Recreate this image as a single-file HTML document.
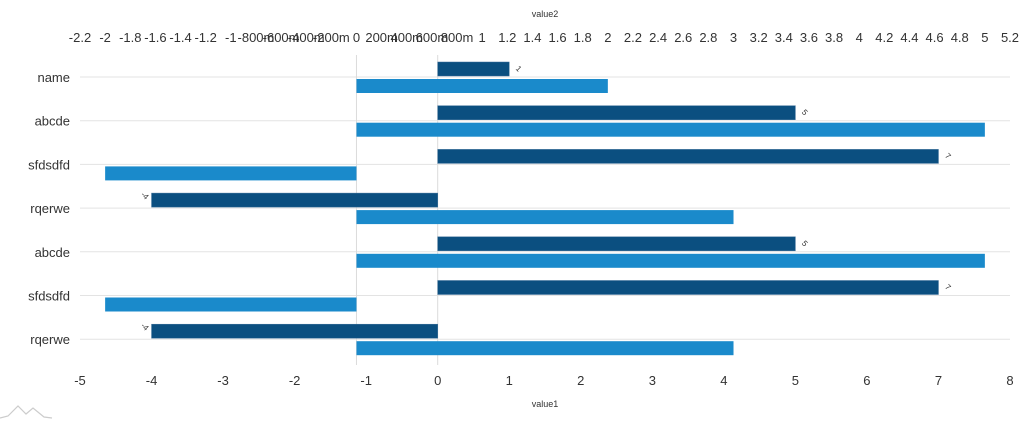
<!DOCTYPE html>
<html><head><meta charset="utf-8"><style>
body{margin:0;background:#fff;}
svg{display:block;font-family:"Liberation Sans",sans-serif;}
</style></head><body>
<svg id="c" width="1028" height="421"></svg>
<script>
const categories=["name","abcde","sfdsdfd","rqerwe","abcde","sfdsdfd","rqerwe"];
const value1=[1,5,7,-4,5,7,-4];
const value2=[2,5,-2,3,5,-2,3];
const bottomTicks=[-5,-4,-3,-2,-1,0,1,2,3,4,5,6,7,8];
const topTicks=[-2.2,-2,-1.8,-1.6,-1.4,-1.2,-1,-0.8,-0.6,-0.4,-0.2,0,0.2,0.4,0.6,0.8,1,1.2,1.4,1.6,1.8,2,2.2,2.4,2.6,2.8,3,3.2,3.4,3.6,3.8,4,4.2,4.4,4.6,4.8,5,5.2];
const NS="http://www.w3.org/2000/svg";
const svg=document.getElementById('c');
const L=80,R=1010,T=55,B=365;
const x1=v=>L+(v+5)/13*(R-L);
const x2=v=>L+(v+2.2)/7.4*(R-L);
const rowY=i=>77+i*43.7;
function mk(tag,attrs,parent){const e=document.createElementNS(NS,tag);for(const k in attrs)e.setAttribute(k,attrs[k]);(parent||svg).appendChild(e);return e;}
function fmt(v){v=Math.round(v*10)/10;if(Math.abs(v)<1&&v!==0)return Math.round(v*1000)+"m";return String(v);}
// gridlines
categories.forEach((c,i)=>{const g=mk('line',{x1:L,x2:R,y1:rowY(i),y2:rowY(i),stroke:'#e3e3e3','stroke-width':1});

});
const z1=mk('line',{x1:x1(0),x2:x1(0),y1:T,y2:B,stroke:'#dcdcdc'});


const z2=mk('line',{x1:x2(0),x2:x2(0),y1:T,y2:B,stroke:'#dcdcdc'});


// bars
categories.forEach((c,i)=>{
 const y=rowY(i);
 const a=x1(0),b=x1(value1[i]);
 const r1=mk('rect',{x:Math.min(a,b),y:y-15,width:Math.abs(b-a),height:14,fill:'#0b4f80',stroke:'#3c6f99','stroke-width':0.5});
 
 
 const c0=x2(0),d=x2(value2[i]);
 const r2=mk('rect',{x:Math.min(c0,d),y:y+2,width:Math.abs(d-c0),height:14,fill:'#1a8acb'});
 
 
 const lx=value1[i]>=0?b+6:b-6;
 const t=mk('text',{x:lx,y:y-8,'font-size':8,fill:'#333','text-anchor':value1[i]>=0?'start':'end',transform:`rotate(45 ${lx} ${y-8})`});
 t.textContent=String(value1[i]);
 
 
 const cl=mk('text',{x:70,y:y+5,'font-size':13,fill:'#333','text-anchor':'end'});
 cl.textContent=c;
 
 
});
bottomTicks.forEach(v=>{const t=mk('text',{x:x1(v),y:385,'font-size':13,fill:'#333','text-anchor':'middle'});t.textContent=String(v);

});
topTicks.forEach(v=>{const t=mk('text',{x:x2(v),y:42,'font-size':13,fill:'#333','text-anchor':'middle'});t.textContent=fmt(v);

});
const tt=mk('text',{x:545,y:17,'font-size':9,fill:'#333','text-anchor':'middle'});tt.textContent='value2';


const bt=mk('text',{x:545,y:407,'font-size':9,fill:'#333','text-anchor':'middle'});bt.textContent='value1';


const logo=mk('path',{d:'M0 418 L8 416 L18 406 L26 414 L33 408 L44 417 L52 418',fill:'none',stroke:'#ccc','stroke-width':1.2});


</script>
</body></html>
